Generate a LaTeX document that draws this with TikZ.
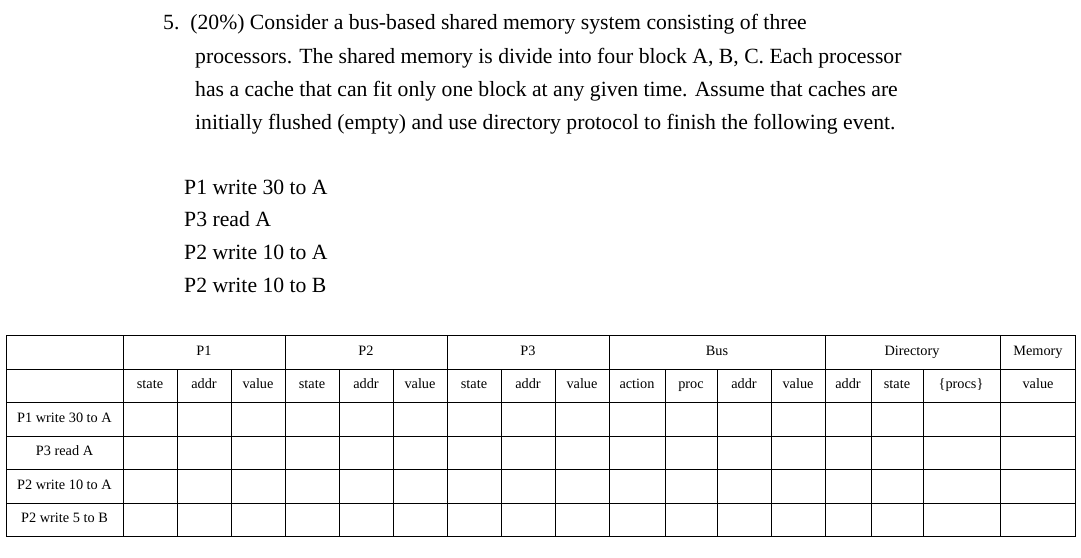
\documentclass[tikz,border=0pt]{standalone}
\usepackage{fontspec}
\setmainfont{Liberation Serif}
\usetikzlibrary{positioning}

\begin{document}
\begin{tikzpicture}[x=1pt,y=-1pt,
			every node/.style={inner sep=0pt},
			para/.style={anchor=base west, font=\fontsize{21.7}{26}\selectfont},
			cell/.style={font=\fontsize{14.3}{17}\selectfont, text height=9pt, text depth=3pt},
			grid/.style={draw, black, line width=0.9pt}
			]
			\useasboundingbox (0,0) rectangle (1081,557);
			
			% question
			\node (q1) [para] at (163,29) {5.\ \ (20\%) Consider a bus-based shared memory system consisting of three};
			\node (q2) [para] at (195,63) {processors. The shared memory is divide into four block A, B, C. Each processor};
			\node (q3) [para] at (195,96) {has a cache that can fit only one block at any given time. Assume that caches are};
			\node (q4) [para] at (195,129) {initially flushed (empty) and use directory protocol to finish the following event.};
			
			% events
			\node (e1) [para] at (184,194) {P1 write 30 to A};
			\node (e2) [para] at (184,226) {P3 read A};
			\node (e3) [para] at (184,259) {P2 write 10 to A};
			\node (e4) [para] at (184,292) {P2 write 10 to B};
			
			% table grid
			\draw [grid] (6,335) rectangle (1075,536);
			\foreach \y in {369,402,436,469,503}
				\draw [grid] (6,\y) -- (1075,\y);
			\foreach \x in {123,285,447,609,825,1000}
				\draw [grid] (\x,335) -- (\x,536);
			\foreach \x in {177,231,339,393,501,555,665,717,771,871,923}
				\draw [grid] (\x,369) -- (\x,536);
			
			% group heads
			\node (hP1) [cell] at (204,352) {P1};
			\node (hP2) [cell] at (366,352) {P2};
			\node (hP3) [cell] at (528,352) {P3};
			\node (hBus) [cell] at (717,352) {Bus};
			\node (hDir) [cell] at (912,352) {Directory};
			\node (hMem) [cell] at (1038,352) {Memory};
			
			% column heads
			\foreach \cx/\txt in {150/state,204/addr,258/value,312/state,366/addr,420/value,
				474/state,528/addr,582/value,637/action,691/proc,744/addr,798/value,
				848/addr,897/state,961/\{procs\},1038/value}
				\node [cell] at (\cx,385.5) {\txt};
			
			% row heads
			\node (r1) [cell] at (64.5,419) {P1 write 30 to A};
			\node (r2) [cell] at (64.5,452.5) {P3 read A};
			\node (r3) [cell] at (64.5,486) {P2 write 10 to A};
			\node (r4) [cell] at (64.5,519.5) {P2 write 5 to B};
			
		\end{tikzpicture}
\end{document}
